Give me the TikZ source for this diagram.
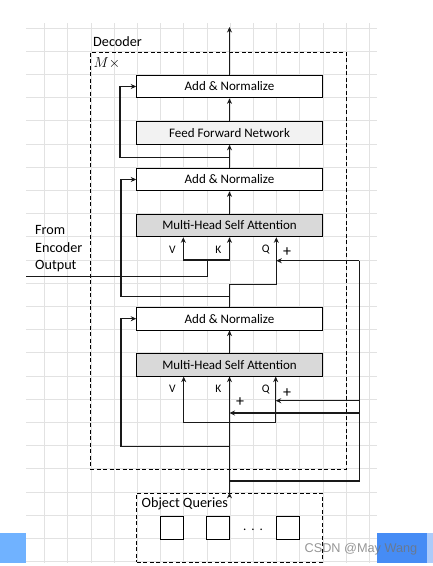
\documentclass[tikz,border=0pt]{standalone}
\usepackage{fontspec}
\setmainfont{Carlito}
\newfontfamily\markfont{Liberation Sans}
\usetikzlibrary{arrows.meta}
\tikzset{> = {Stealth[length=5.5pt, width=5pt]}}
\definecolor{gridgray}{RGB}{226,226,226}
\definecolor{ffngray}{RGB}{242,242,242}
\definecolor{attgray}{RGB}{217,217,217}
\definecolor{blueL}{RGB}{112,178,255}
\definecolor{blueR}{RGB}{70,140,245}

\begin{document}
\begin{tikzpicture}[x=1pt, y=-1pt,
  block/.style={rectangle, draw, line width=1pt, fill=white, minimum width=185.5pt, minimum height=22.7pt, inner sep=0pt, font=\fontsize{13}{15}\selectfont},
  frame/.style={rectangle, draw, dash pattern=on 4pt off 2.5pt, line width=0.9pt, inner sep=0pt},
  token/.style={rectangle, draw, line width=1pt, fill=white, minimum size=23.3pt, inner sep=0pt},
  wire/.style={line width=1.15pt, draw=black!90},
  port/.style={font=\fontsize{11.5}{13}\selectfont, inner sep=0pt},
  plus/.style={font=\fontsize{16}{16}\selectfont, inner sep=0pt},
  title/.style={anchor=west, align=left, font=\fontsize{14.2}{17.8}\selectfont, inner sep=0pt}]
\useasboundingbox (0,0) rectangle (433,566);

% background grid
\foreach \k in {0,...,14}
  \draw[gridgray, line width=0.8pt] ({44.5+23.2*\k}, 23) -- ({44.5+23.2*\k}, 563);
\foreach \k in {0,...,23}
  \draw[gridgray, line width=0.8pt] (26, {28+23.2*\k}) -- (377, {28+23.2*\k});
\fill[blueL] (0,533) rectangle (26,563);
\fill[blueR] (377,533) rectangle (427,563);
\fill[blueR!45] (427,533) rectangle (433,563);

% frames
\node[frame, minimum width=256pt, minimum height=417pt] (Dec) at (218,260.5) {};
\node[title] (DecL) at (93,41.5) {Decoder};
\node[title] (Rep) at (93.5,63) {$M\times$};
\node[frame, minimum width=185.5pt, minimum height=69pt] (OQ) at (229.5,527.8) {};
\node[title] (OQL) at (141.5,504) {Object Queries};

% nodes
\node[block] (AN1) at (229.5,86.5) {Add \& Normalize};
\node[block, fill=ffngray] (FFN) at (229.5,133) {Feed Forward Network};
\node[block] (AN2) at (229.5,179.5) {Add \& Normalize};
\node[block, fill=attgray] (MHA1) at (229.5,225.5) {Multi-Head Self Attention};
\node[block] (AN3) at (229.5,318.7) {Add \& Normalize};
\node[block, fill=attgray] (MHA2) at (229.5,364.8) {Multi-Head Self Attention};
\node[token] (Q1) at (171.7,527.7) {};
\node[token] (Q2) at (217.8,527.7) {};
\node[token] (Q3) at (287.7,527.7) {};
\node[anchor=base, font=\fontsize{13}{15}\selectfont, inner sep=0pt] (Dots) at (253,530.5) {.\hspace{5pt}.\hspace{5pt}.};
\node[title] (Enc) at (35,248.7) {From\\Encoder\\Output};

% labels
\node[port] (V1) at (172.3,250) {V};
\node[port] (K1) at (218.3,250) {K};
\node[port] (Qy1) at (265.7,250) {Q};
\node[plus] (P1) at (287,252.5) {+};
\node[port] (V2) at (172.3,389.3) {V};
\node[port] (K2) at (218.3,389.3) {K};
\node[port] (Qy2) at (265.7,389.3) {Q};
\node[plus] (P2) at (287,393) {+};
\node[plus] (P3) at (240,402.5) {+};

% junctions
\coordinate (out) at (229.5,27);
\coordinate (r1) at (229.5,157.7);
\coordinate (r2) at (229.5,296.7);
\coordinate (r3) at (229.5,446.7);
\coordinate (qbend) at (276.3,284.3);
\coordinate (encin) at (26,276.7);
\coordinate (vk) at (207.7,260);
\coordinate (vq) at (229.5,422.3);
\coordinate (pos) at (229.5,481);
\coordinate (pe1) at (359.3,260.7);
\coordinate (pe2) at (359.3,400.7);
\coordinate (pe3) at (359.3,413);

% edges
\draw[->, wire]
(AN1) edge (out)
(FFN) edge (AN1)
(AN2) edge (FFN)
(MHA1) edge (AN2)
(MHA2) edge (AN3)
(OQ.north) edge (MHA2.south);
\draw[->, wire] (r1) -| ([xshift=-16.3pt]AN1.west) -- (AN1.west);
\draw[->, wire] (r2) -| ([xshift=-15.3pt]AN2.west) -- (AN2.west);
\draw[->, wire] (r3) -| ([xshift=-15.3pt]AN3.west) -- (AN3.west);
\draw[->, wire] (AN3.north) |- (qbend) -- (qbend |- MHA1.south);
\draw[wire] (encin) -| (vk);
\draw[->, wire] (vk) -| ([xshift=-46.2pt]MHA1.south);
\draw[->, wire] (vk) -| (MHA1.south);
\draw[->, wire] (vq) -| ([xshift=-45.8pt]MHA2.south);
\draw[->, wire] (vq) -| ([xshift=46.2pt]MHA2.south);
\draw[wire] (pos) -| (pe1);
\draw[->, wire] (pe1) -- (pe1 -| qbend);
\draw[->, wire] (pe2) -- ([xshift=46.2pt]MHA2.south |- pe2);
\draw[->, wire] (pe3) -- (pe3 -| vq);

% watermark
\node[font=\markfont\fontsize{12.7}{14}\selectfont, text=black!55, text opacity=0.75, inner sep=0pt] (Mark) at (361,549) {CSDN @May Wang};
\end{tikzpicture}
\end{document}
